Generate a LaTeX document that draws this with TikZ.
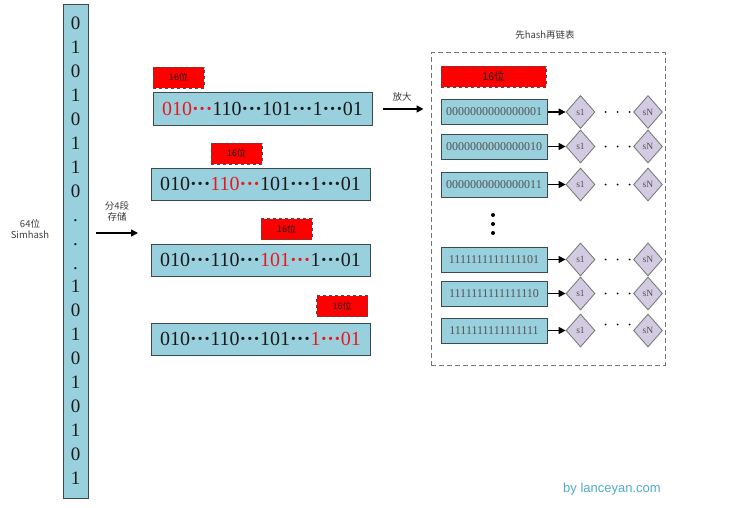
\documentclass[tikz,border=0pt]{standalone}
\usepackage{fontspec}
\setmainfont{Liberation Serif}
\newfontfamily\cjk{Noto Sans CJK SC}
\newfontfamily\sansf{Liberation Sans}
\usetikzlibrary{arrows.meta,shapes.geometric}
\definecolor{boxblue}{HTML}{99D0DE}
\definecolor{edgec}{HTML}{3F4A50}
\definecolor{lav}{HTML}{D3CBE2}
\definecolor{linkc}{HTML}{4FAACD}
\definecolor{txtc}{HTML}{1A1A1A}
\definecolor{redtxt}{HTML}{E8191E}
\newcommand\mydots{\textbf{·\kern0.2pt·\kern0.2pt·}}
\begin{document}
\begin{tikzpicture}[x=1pt,y=-1pt,
  barbox/.style={draw=edgec, fill=boxblue, line width=1pt, inner sep=0pt},
  digit/.style={anchor=base, text=txtc, font=\fontsize{19}{19}\selectfont},
  segbox/.style={draw=edgec, fill=boxblue, line width=1pt, minimum width=219pt, minimum height=32pt, inner sep=0pt, text=txtc, font=\fontsize{20}{20}\selectfont},
  tag/.style={draw=black!70, dashed, fill=red, line width=0.9pt, minimum width=51pt, minimum height=21pt, inner sep=0pt, text=txtc, font=\cjk\fontsize{9}{9}\selectfont},
  keybox/.style={draw=edgec, fill=boxblue, line width=1pt, minimum width=106pt, minimum height=25pt, inner sep=0pt, text=txtc!75, font=\fontsize{12}{12}\selectfont},
  dia/.style={diamond, draw=black!55, fill=lav, line width=0.8pt, minimum width=29pt, minimum height=33pt, inner sep=0pt, text=txtc!75, font=\fontsize{9.5}{9.5}\selectfont},
  lbl/.style={text=txtc!85, font=\cjk\fontsize{9.5}{11}\selectfont},
  arr/.style={-{Triangle[length=7pt,width=7pt]}, line width=1.6pt},
  dot/.style={circle, fill=black, inner sep=0pt, minimum size=2pt}
]
\useasboundingbox (0,0) rectangle (738,508);

% vertical 64-bit bar
\node[barbox, minimum width=25pt, minimum height=493pt] (bar) at (75.5,251.5) {};
\foreach \d [count=\i from 0] in {0,1,0,1,0,1,1,0,.,.,.,1,0,1,0,1,0,1,0,1}
  \node[digit] (d\i) at (75.5,29.5+\i*23.95) {\d};

\node[lbl, align=center] (sim) at (30,229) {64位\\Simhash};

% split arrow
\coordinate (lvl) at (100,233);
\coordinate (lvlend) at (151,233);
\draw[arr, shorten <=7pt, shorten >=13pt] (bar.east |- lvl) -- (lvlend);
\node[lbl, align=center] (split) at (117,211) {分4段\\存储};

% four segment boxes
\node[segbox] (seg1) at (262.5,109) {{\color{redtxt}010\mydots}110\mydots101\mydots1\mydots01};
\node[segbox] (seg2) at (260.5,184) {010\mydots{\color{redtxt}110\mydots}101\mydots1\mydots01};
\node[segbox] (seg3) at (260.5,260) {010\mydots110\mydots{\color{redtxt}101\mydots}1\mydots01};
\node[segbox] (seg4) at (260.5,339) {010\mydots110\mydots101\mydots{\color{redtxt}1\mydots01}};

\node[tag] (tag1) at (178.5,77.5) {16位};
\node[tag] (tag2) at (236.5,153.5) {16位};
\node[tag] (tag3) at (286.5,229) {16位};
\node[tag] (tag4) at (342,306) {16位};

% container
\node[draw=black!55, dashed, dash pattern=on 5pt off 3pt, line width=1pt, minimum width=234pt, minimum height=312pt, inner sep=0pt] (cont) at (548,209) {};
\node[lbl] (title) at (545,35) {先hash再链表};

\draw[arr, shorten <=10pt, shorten >=7pt] (seg1.east) -- (cont.west |- seg1.east);
\node[lbl] (zoom) at (402,97) {放大};

\node[tag, minimum width=105pt, font=\cjk\fontsize{10.5}{10.5}\selectfont] (bigtag) at (493.5,76.5) {16位};

% rows
\foreach \n/\y/\k in {1/112/0000000000000001, 2/146.5/0000000000000010, 3/184.5/0000000000000011, 4/259.5/1111111111111101, 5/293.5/1111111111111110, 6/330.5/1111111111111111} {
  \node[keybox] (k\n) at (494,\y) {\k};
  \node[dia] (s\n) at (580.5,\y) {s1};
  \node[dia] (n\n) at (648,\y) {sN};
  \draw[arr, line width=1.4pt] (k\n.east) -- (s\n.west);
}
\foreach \n in {1,...,5} {
  \path (s\n.center) ++(25,0) node[dot] {} ++(12,0) node[dot] {} ++(12,0) node[dot] {};
}
\path (s6.center) ++(25,-6) node[dot] {} ++(12,0) node[dot] {} ++(12,0) node[dot] {};

% vertical ellipsis
\node[dot, minimum size=4pt] (v1) at (493,215) {};
\node[dot, minimum size=4pt] (v2) at (493,224) {};
\node[dot, minimum size=4pt] (v3) at (493,233) {};

\node[text=linkc, font=\sansf\fontsize{13}{13}\selectfont] (credit) at (612,489) {by lanceyan.com};
\end{tikzpicture}
\end{document}
